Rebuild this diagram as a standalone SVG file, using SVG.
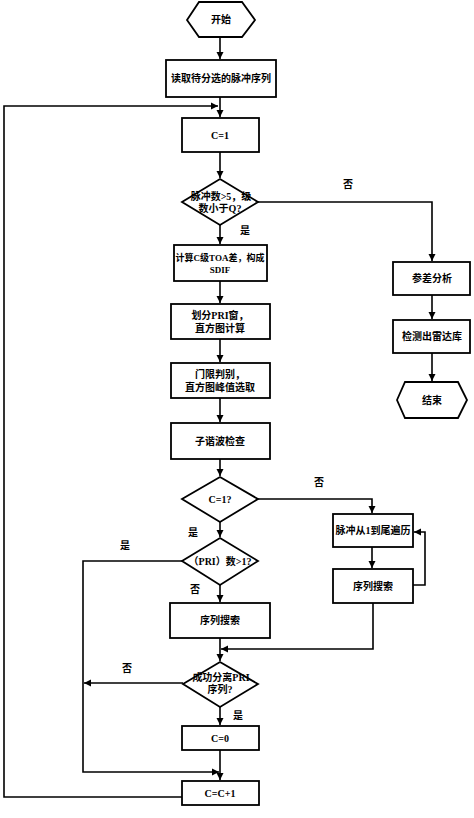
<svg xmlns="http://www.w3.org/2000/svg" width="474" height="818" viewBox="0 0 474 818">
<defs>
<marker id="ah" markerUnits="userSpaceOnUse" markerWidth="8" markerHeight="8" refX="7" refY="4" orient="auto">
<path d="M0,0.5 L7,4 L0,7.5 Z" fill="#000"/>
</marker>
<style>
.n{fill:#fff;stroke:#000;stroke-width:1.8}
.t{font-family:"Liberation Serif","Noto Sans CJK SC",serif;font-size:10px;font-weight:bold;fill:#000;text-anchor:middle}
.s{font-size:9px}
.c{fill:none;stroke:#000;stroke-width:1.6}
</style>
</defs>
<rect width="474" height="818" fill="#fff"/>
<g id="connectors">
<path class="c" d="M220,37 V59" marker-end="url(#ah)"/>
<path class="c" d="M220,97 V117" marker-end="url(#ah)"/>
<path class="c" d="M182,797 H4 V106 H218" marker-end="url(#ah)"/>
<path class="c" d="M220,152 V178" marker-end="url(#ah)"/>
<path class="c" d="M220,225 V244" marker-end="url(#ah)"/>
<path class="c" d="M220,281 V303" marker-end="url(#ah)"/>
<path class="c" d="M220,339 V362" marker-end="url(#ah)"/>
<path class="c" d="M220,398 V422" marker-end="url(#ah)"/>
<path class="c" d="M220,459 V476" marker-end="url(#ah)"/>
<path class="c" d="M220,522 V537" marker-end="url(#ah)"/>
<path class="c" d="M220,585 V602" marker-end="url(#ah)"/>
<path class="c" d="M220,638 V661" marker-end="url(#ah)"/>
<path class="c" d="M220,707 V725" marker-end="url(#ah)"/>
<path class="c" d="M220,750 V780" marker-end="url(#ah)"/>
<path class="c" d="M258,202 H432 V261" marker-end="url(#ah)"/>
<path class="c" d="M432,295 V319" marker-end="url(#ah)"/>
<path class="c" d="M432,353 V381" marker-end="url(#ah)"/>
<path class="c" d="M258,499 H372 V513" marker-end="url(#ah)"/>
<path class="c" d="M372,547 V568" marker-end="url(#ah)"/>
<path class="c" d="M413,585 H425 V532 H414" marker-end="url(#ah)"/>
<path class="c" d="M373,603 V649 H221" marker-end="url(#ah)"/>
<path class="c" d="M182,561 H83 V772 H219" marker-end="url(#ah)"/>
<path class="c" d="M183,683 H84" marker-end="url(#ah)"/>
</g>
<g id="labels">
<text class="t" x="348" y="188">否</text>
<text class="t" x="245" y="234">是</text>
<text class="t" x="319" y="486">否</text>
<text class="t" x="193" y="536">是</text>
<text class="t" x="195" y="593">否</text>
<text class="t" x="125" y="549">是</text>
<text class="t" x="127" y="672">否</text>
<text class="t" x="238" y="719">是</text>
</g>
<g id="start">
<polygon class="n" points="187,20 199,2 242,2 255,20 242,37 199,37"/>
<text class="t" x="221" y="23">开始</text>
</g>
<g id="read">
<rect class="n" x="166" y="60" width="110" height="37"/>
<text class="t" x="221" y="82">读取待分选的脉冲序列</text>
</g>
<g id="c1">
<rect class="n" x="182" y="118" width="77" height="34"/>
<text class="t" x="220" y="139">C=1</text>
</g>
<g id="cond1">
<polygon class="n" points="220,179 258,202 220,225 182,202"/>
<text class="t" x="221" y="200">脉冲数&gt;5，级</text>
<text class="t" x="220" y="212">数小于Q?</text>
</g>
<g id="sdif">
<rect class="n" x="174" y="245" width="93" height="36"/>
<text class="t s" x="220" y="261">计算C级TOA差，构成</text>
<text class="t s" x="220" y="273">SDIF</text>
</g>
<g id="pri">
<rect class="n" x="171" y="304" width="99" height="35"/>
<text class="t" x="220" y="319">划分PRI窗，</text>
<text class="t" x="220" y="332">直方图计算</text>
</g>
<g id="thresh">
<rect class="n" x="171" y="363" width="99" height="35"/>
<text class="t" x="220" y="378">门限判别，</text>
<text class="t" x="220" y="391">直方图峰值选取</text>
</g>
<g id="sub">
<rect class="n" x="171" y="423" width="99" height="36"/>
<text class="t" x="220" y="445">子谐波检查</text>
</g>
<g id="cond2">
<polygon class="n" points="220,477 258,499 220,522 182,499"/>
<text class="t" x="220" y="503">C=1?</text>
</g>
<g id="cond3">
<polygon class="n" points="220,538 258,561 220,585 182,561"/>
<text class="t" x="220" y="565">（PRI）数&gt;1?</text>
</g>
<g id="search1">
<rect class="n" x="170" y="603" width="100" height="35"/>
<text class="t" x="220" y="624">序列搜索</text>
</g>
<g id="cond4">
<polygon class="n" points="220,662 258,684 220,707 183,684"/>
<text class="t" x="221" y="681">成功分离PRI</text>
<text class="t" x="220" y="693">序列?</text>
</g>
<g id="c0">
<rect class="n" x="182" y="726" width="77" height="24"/>
<text class="t" x="220" y="742">C=0</text>
</g>
<g id="cinc">
<rect class="n" x="182" y="781" width="77" height="24"/>
<text class="t" x="220" y="797">C=C+1</text>
</g>
<g id="traverse">
<rect class="n" x="333" y="514" width="80" height="33"/>
<text class="t" x="373" y="534">脉冲从1到尾遍历</text>
</g>
<g id="search2">
<rect class="n" x="333" y="569" width="80" height="34"/>
<text class="t" x="373" y="590">序列搜索</text>
</g>
<g id="stagger">
<rect class="n" x="393" y="262" width="77" height="33"/>
<text class="t" x="432" y="282">参差分析</text>
</g>
<g id="detect">
<rect class="n" x="393" y="320" width="77" height="33"/>
<text class="t" x="432" y="340">检测出雷达库</text>
</g>
<g id="end">
<polygon class="n" points="397,400 405,382 458,382 467,400 458,418 405,418"/>
<text class="t" x="432" y="404">结束</text>
</g>
</svg>
